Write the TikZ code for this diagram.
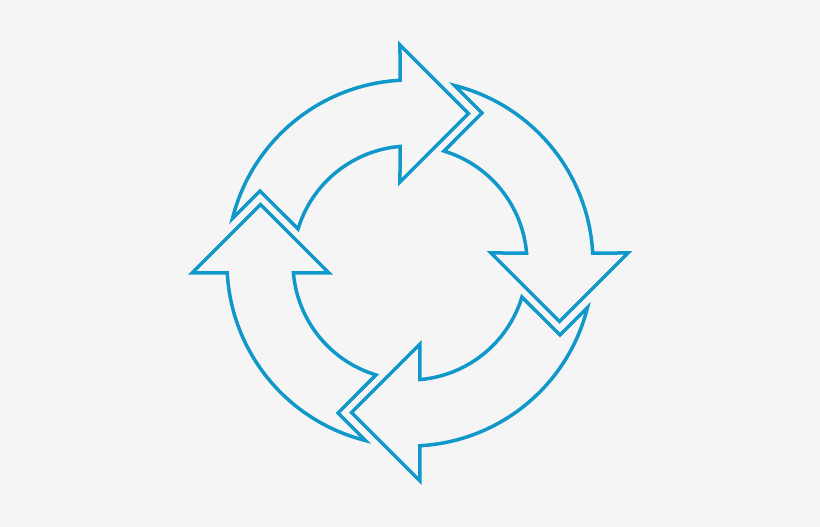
\documentclass[tikz,border=0pt]{standalone}
\definecolor{cyc}{RGB}{16,152,202}
\definecolor{bgc}{RGB}{245,245,245}
\begin{document}
\begin{tikzpicture}[x=1pt,y=1pt,
  arrowline/.style={draw=cyc, line width=3.5pt, line join=miter, miter limit=10}]
\fill[bgc] (-410,-264) rectangle (410,263);
\useasboundingbox (-410,-264) rectangle (410,263);
\foreach \a in {0,-90,-180,-270}{
  \begin{scope}[rotate=\a]
    \draw[arrowline] (165.93:183) arc[start angle=165.93, end angle=93.13, radius=183]
      -- (-10,218) -- (58.5,149.5) -- (-10,81) -- (94.9:117)
      arc[start angle=94.9, end angle=163.11, radius=117]
      -- (-150,72) -- cycle;
  \end{scope}
}
\end{tikzpicture}
\end{document}
